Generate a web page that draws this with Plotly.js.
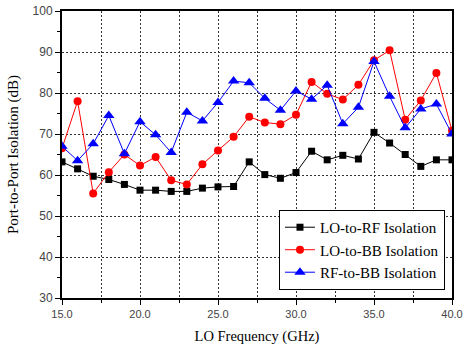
<!DOCTYPE html>
<html>
<head>
<meta charset="utf-8">
<script src="https://cdn.plot.ly/plotly-3.0.1.min.js"></script>
<style>html,body{margin:0;padding:0;background:#fff;}#chart{width:474px;height:348px;}</style>
</head>
<body>
<div id="chart"></div>
<script>
const freq = [15,16,17,18,19,20,21,22,23,24,25,26,27,28,29,30,31,32,33,34,35,36,37,38,39,40];
const loToRf = [63.2,61.5,59.7,58.9,57.7,56.3,56.3,56.0,56.0,56.8,57.1,57.2,63.2,60.1,59.2,60.6,65.8,63.7,64.8,63.9,70.4,67.8,65.0,62.1,63.7,63.7];
const loToBb = [66.5,78.0,55.5,60.7,65.0,62.3,64.4,58.7,57.7,62.6,66.0,69.3,74.2,72.8,72.4,74.7,82.7,79.8,78.4,82.0,88.0,90.4,73.5,78.2,84.9,70.8];
const rfToBb = [67.0,63.5,67.6,74.5,65.2,73.0,69.8,65.5,75.3,73.2,77.7,82.9,82.5,78.7,75.8,80.5,78.5,81.9,72.5,76.5,87.7,79.2,71.5,76.1,77.3,70.0];
const names = ["LO-to-RF Isolation","LO-to-BB Isolation","RF-to-BB Isolation"];
const xTicks = [15,20,25,30,35,40];
const xTickText = ["15.0","20.0","25.0","30.0","35.0","40.0"];
const yTicks = [30,40,50,60,70,80,90,100];

const SERIF = 'Liberation Serif';
const SANS = 'Liberation Sans';

const traces = [
  {x: freq, y: loToRf, name: names[0], mode: 'lines+markers', line: {color: '#000000', width: 1}, marker: {symbol: 'square', size: 7, color: '#000000'}},
  {x: freq, y: loToBb, name: names[1], mode: 'lines+markers', line: {color: '#ff0000', width: 1}, marker: {symbol: 'circle', size: 8, color: '#ff0000'}},
  {x: freq, y: rfToBb, name: names[2], mode: 'lines+markers', line: {color: '#0000ff', width: 1}, marker: {symbol: 'triangle-up', size: 10, color: '#0000ff'}}
];

const layout = {
  width: 474, height: 348,
  margin: {l: 62, r: 22, t: 11, b: 50},
  paper_bgcolor: '#ffffff', plot_bgcolor: '#ffffff',
  font: {family: SERIF},
  showlegend: true,
  legend: {
    x: 0.982, y: 0.028, xanchor: 'right', yanchor: 'bottom',
    bgcolor: '#ffffff', bordercolor: '#000000', borderwidth: 1,
    font: {family: SERIF, size: 15, color: '#000'},
    tracegroupgap: 0
  },
  xaxis: {
    range: [15, 40], tickvals: xTicks, ticktext: xTickText,
    showline: true, linecolor: '#000', linewidth: 2, mirror: true,
    ticks: 'outside', ticklen: 5, tickcolor: '#000', tickwidth: 1,
    showgrid: true, gridcolor: '#333', gridwidth: 1, griddash: '2px,2px',
    minor: {dtick: 2.5, tick0: 15, ticks: 'outside', ticklen: 3, tickcolor: '#000', showgrid: true, gridcolor: '#333', gridwidth: 1, griddash: '2px,2px'},
    zeroline: false,
    tickfont: {family: SANS, size: 11, color: '#444'},
    title: {text: 'LO Frequency (GHz)', font: {family: SERIF, size: 14.5, color: '#000'}, standoff: 12},
    automargin: false
  },
  yaxis: {
    range: [30, 100], tickvals: yTicks,
    showline: true, linecolor: '#000', linewidth: 2, mirror: true,
    ticks: 'outside', ticklen: 5, tickcolor: '#000', tickwidth: 1,
    showgrid: true, gridcolor: '#333', gridwidth: 1, griddash: '2px,2px',
    minor: {dtick: 5, tick0: 30, ticks: 'outside', ticklen: 3, tickcolor: '#000', showgrid: false},
    zeroline: false,
    tickfont: {family: SANS, size: 12, color: '#444'},
    title: {text: 'Port-to-Port Isolation (dB)', font: {family: SERIF, size: 15, color: '#000'}, standoff: 10},
    automargin: false
  }
};

Plotly.newPlot('chart', traces, layout, {displayModeBar: false, staticPlot: true});
</script>
</body>
</html>
